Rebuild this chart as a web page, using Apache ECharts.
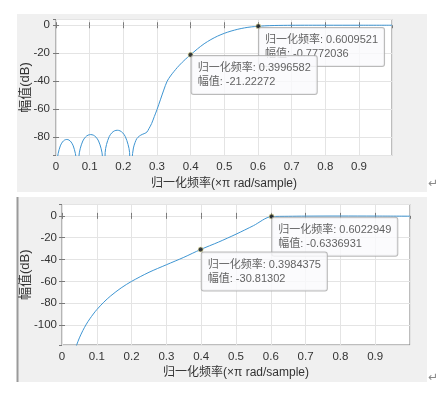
<!DOCTYPE html>
<html>
<head>
<meta charset="utf-8">
<script src="https://cdn.jsdelivr.net/npm/echarts@6/dist/echarts.min.js"></script>
<style>
html,body{margin:0;padding:0;background:#fff;}
#c{width:440px;height:394px;}
</style>
</head>
<body>
<div id="c"></div>
<script>
// ---- data ----
const topFreq = [0, 0.0032, 0.0064, 0.0128, 0.0192, 0.0256, 0.032, 0.0384, 0.0448, 0.0512, 0.0576, 0.0608, 0.064,
  0.0679, 0.0718, 0.0796, 0.0874, 0.0952, 0.103, 0.1108, 0.1186, 0.1264, 0.1342, 0.1381, 0.142,
  0.146, 0.150, 0.158, 0.166, 0.174, 0.182, 0.190, 0.198, 0.206, 0.214, 0.2186, 0.2226,
  0.226, 0.230, 0.235, 0.240, 0.248, 0.256, 0.264, 0.270, 0.276, 0.284, 0.292, 0.300, 0.310, 0.320, 0.330,
  0.340, 0.350, 0.360, 0.370, 0.380, 0.390, 0.3996582, 0.420, 0.440, 0.460, 0.480, 0.500, 0.520, 0.540,
  0.560, 0.580, 0.6009521, 0.620, 0.650, 0.700, 0.750, 0.800, 0.900, 0.998];
const topMag = [-140, -97.9, -92, -86.5, -83.7, -82.3, -81.9, -82.3, -83.7, -86.5, -92, -97.9, -140,
  -94.4, -88.6, -83, -80.2, -78.8, -78.4, -78.8, -80.2, -83, -88.6, -94.4, -140,
  -91.3, -85.5, -79.9, -77.1, -75.7, -75.3, -75.7, -77.1, -79.9, -85.5, -91.3, -140,
  -96, -88, -84, -81.3, -79.4, -78.3, -77.5, -76.6, -74.2, -70.5, -65.5, -60.5, -53.5, -46.5, -40.2,
  -36.4, -33.3, -30.4, -27.8, -25.4, -23.2, -21.22272, -17.0, -13.3, -10.3, -7.8, -5.8, -4.2, -2.9,
  -1.9, -1.2, -0.7772036, -0.45, -0.2, -0.05, 0, 0, 0, 0];

const botFreq = [0.035, 0.0424, 0.05, 0.06, 0.07, 0.08, 0.09, 0.100, 0.120, 0.140, 0.170, 0.200, 0.250,
  0.300, 0.350, 0.3984375, 0.450, 0.500, 0.550, 0.6022949, 0.650, 0.700, 0.800, 0.900, 1.000];
const botMag = [-125, -118, -111.8, -105, -99.2, -94.3, -89.9, -85.9, -79.1, -73.3, -66, -60, -51.7,
  -44.8, -38, -30.81302, -24, -16.8, -9, -0.6336931, -0.4, -0.25, -0.15, -0.2, -0.3];

const topTipFreq = [0.3996582, 0.6009521];
const topTipMag = [-21.22272, -0.7772036];
const botTipFreq = [0.3984375, 0.6022949];
const botTipMag = [-30.81302, -0.6336931];

const xLabelText = '归一化频率(×π rad/sample)';
const yLabelText = '幅值(dB)';
const tipFreqName = '归一化频率';
const tipMagName = '幅值';

// ---- chart ----
const chart = echarts.init(document.getElementById('c'), null, {renderer: 'canvas'});
const FONT = '"Liberation Sans", Arial, "Noto Sans CJK SC", sans-serif';
const frame = '#7a7a7a';
const gridLine = '#e4e4e4';
const textCol = '#333333';
const lineCol = '#3e95d2';

function pairs(xs, ys){ return xs.map((x,i)=>[x, ys[i]]); }

function xAxes(gi, max, nameGap){
  return [{
    gridIndex: gi, type: 'value', min: 0, max: max, interval: 0.1, position: 'bottom',
    axisLine: {show: false},
    axisTick: {show: true, inside: true, length: 3, lineStyle: {color: frame}},
    splitLine: {show: true, lineStyle: {color: gridLine, width: 1}},
    axisLabel: {show: true, color: textCol, fontSize: 11.5, fontFamily: FONT, margin: 6,
      showMaxLabel: false,
      formatter: v => (Math.abs(v) < 1e-9 ? '0' : (Math.round(v*10)/10).toFixed(1))},
    name: xLabelText, nameLocation: 'middle', nameGap: nameGap, nameMoveOverlap: false,
    nameTextStyle: {color: textCol, fontSize: 12, fontFamily: FONT}
  }, {
    gridIndex: gi, type: 'value', min: 0, max: max, interval: 0.1, position: 'top',
    axisLine: {show: false},
    axisTick: {show: true, inside: true, length: 3, lineStyle: {color: frame}},
    splitLine: {show: false}, axisLabel: {show: false}
  }];
}
function yAxes(gi, min, max, split, margin, nameGap){
  return [{
    gridIndex: gi, type: 'value', min: min, max: max, splitNumber: split, position: 'left',
    axisLine: {show: false},
    axisTick: {show: true, inside: true, length: 3, lineStyle: {color: frame}},
    splitLine: {show: true, lineStyle: {color: gridLine, width: 1}},
    axisLabel: {show: true, color: textCol, fontSize: 11.5, fontFamily: FONT, margin: margin,
      showMinLabel: false, showMaxLabel: false},
    name: yLabelText, nameLocation: 'middle', nameGap: nameGap, nameRotate: 90, nameMoveOverlap: false,
    nameTextStyle: {color: textCol, fontSize: 13, fontFamily: FONT}
  }, {
    gridIndex: gi, type: 'value', min: min, max: max, splitNumber: split, position: 'right',
    axisLine: {show: false},
    axisTick: {show: true, inside: true, length: 3, lineStyle: {color: frame}},
    splitLine: {show: false}, axisLabel: {show: false}
  }];
}

function tipSeries(xi, yi, fx, fy, idx, offset, z){
  return {
    type: 'scatter', xAxisIndex: xi, yAxisIndex: yi, z: z, zlevel: 0,
    symbol: 'circle', symbolSize: 5,
    itemStyle: {color: '#111', borderColor: '#e8e6a0', borderWidth: 0.8},
    data: [[fx[idx], fy[idx]]],
    label: {
      show: true, position: offset, align: 'left', verticalAlign: 'top',
      formatter: p => tipFreqName + ': ' + fx[idx] + '\n' + tipMagName + ': ' + fy[idx],
      color: '#3a3a3a', fontSize: 11, lineHeight: 14, fontFamily: FONT,
      backgroundColor: 'rgba(250,250,253,1)', borderColor: '#a9a9a9', borderWidth: 1,
      borderRadius: 2, padding: [5, 6, 5, 6]
    },
    emphasis: {disabled: true}, silent: true, animation: false
  };
}

const option = {
  animation: false,
  backgroundColor: '#ffffff',
  graphic: [
    {type: 'rect', z: -10, shape: {x: 17, y: 14, width: 410, height: 178}, style: {fill: '#f0f0f0'}, silent: true},
    {type: 'rect', z: -10, shape: {x: 17, y: 197, width: 410, height: 185}, style: {fill: '#f0f0f0'}, silent: true},
    {type: 'rect', z: -9, shape: {x: 16.5, y: 197, width: 2, height: 185}, style: {fill: '#9a9a9a'}, silent: true},
    {type: 'text', z: 5, left: 428, top: 178, style: {text: '↵', fill: '#8a8a8a', fontSize: 12, fontFamily: 'DejaVu Sans'}},
    {type: 'text', z: 5, left: 428, top: 372, style: {text: '↵', fill: '#8a8a8a', fontSize: 12, fontFamily: 'DejaVu Sans'}}
  ],
  grid: [
    {left: 56, top: 19.5, width: 336, height: 136, show: true, backgroundColor: '#ffffff', borderColor: frame, borderWidth: 1, containLabel: false},
    {left: 62, top: 204.5, width: 348, height: 140.5, show: true, backgroundColor: '#ffffff', borderColor: frame, borderWidth: 1, containLabel: false}
  ],
  xAxis: [].concat(xAxes(0, 0.998, 22), xAxes(1, 1.0, 22)),
  yAxis: [].concat(yAxes(0, -93.4, 4.1, 5, 6, 24), yAxes(1, -118.3, 10.4, 6, 5, 30)),
  series: [
    {type: 'line', xAxisIndex: 0, yAxisIndex: 0, data: pairs(topFreq, topMag), showSymbol: false,
      smooth: 0.3, clip: true, lineStyle: {color: lineCol, width: 1}, z: 3, silent: true},
    {type: 'line', xAxisIndex: 2, yAxisIndex: 2, data: pairs(botFreq, botMag), showSymbol: false,
      smooth: 0.3, clip: true, lineStyle: {color: lineCol, width: 1}, z: 3, silent: true},
    tipSeries(0, 0, topTipFreq, topTipMag, 1, [3.5, 4.5], 4),
    tipSeries(0, 0, topTipFreq, topTipMag, 0, [4, 4], 5),
    tipSeries(2, 2, botTipFreq, botTipMag, 1, [3.5, 4], 4),
    tipSeries(2, 2, botTipFreq, botTipMag, 0, [4, 6], 5)
  ]
};
chart.setOption(option);
</script>
</body>
</html>
